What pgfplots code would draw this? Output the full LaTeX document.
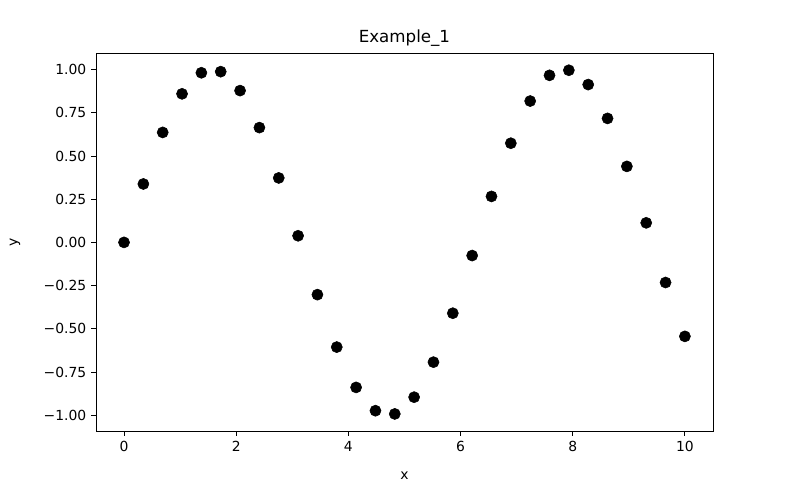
\documentclass[border=0pt]{standalone}
\usepackage{fontspec}
\setmainfont{DejaVu Sans}
\usepackage{pgfplots}
\pgfplotsset{compat=1.18}
\begin{document}
\begin{tikzpicture}
\begin{axis}[
  scale only axis,
  width=444.2pt, height=272.2pt,
  xmin=-0.5, xmax=10.5, ymin=-1.0925, ymax=1.0959,
  xtick={0,2,4,6,8,10},
  ytick={-1,-0.75,-0.5,-0.25,0,0.25,0.5,0.75,1},
  tick align=outside,
  tick pos=lower,
  major tick length=3.5pt,
  tick style={black, line width=0.6pt},
  axis line style={line width=0.6pt},
  ticklabel style={font=\fontsize{10}{12}\selectfont},
  xticklabel={\pgfmathprintnumber[assume math mode=true]{\tick}},
  yticklabel={\pgfmathsetmacro\a{abs(\tick)}\ifdim\tick pt<-0.0001pt \char"2212\fi\pgfmathprintnumber[fixed,fixed zerofill,precision=2,assume math mode=true]{\a}},
  title={Example\_1},
  title style={font=\fontsize{12}{14}\selectfont, yshift=-5pt},
  xlabel={x}, ylabel={y},
  xlabel style={font=\fontsize{10}{12}\selectfont, yshift=-8pt},
  ylabel style={font=\fontsize{10}{12}\selectfont, yshift=10pt},
]
\addplot[only marks, mark=*, mark size=4.0pt, black] coordinates {
(0.0000,0.0000) (0.3448,0.3381) (0.6897,0.6365) (1.0345,0.8598) (1.3793,0.9817)
(1.7241,0.9882) (2.0690,0.8785) (2.4138,0.6643) (2.7586,0.3730) (3.1034,0.0382)
(3.4483,-0.3025) (3.7931,-0.6061) (4.1379,-0.8394) (4.4828,-0.9743) (4.8276,-0.9930)
(5.1724,-0.8960) (5.5172,-0.6932) (5.8621,-0.4100) (6.2069,-0.0762) (6.5517,0.2661)
(6.8966,0.5740) (7.2414,0.8181) (7.5862,0.9669) (7.9310,0.9964) (8.2759,0.9134)
(8.6207,0.7176) (8.9655,0.4399) (9.3103,0.1131) (9.6552,-0.2323) (10.0000,-0.5440)
};
\end{axis}
\pgfresetboundingbox
\path ([xshift=-69.1pt,yshift=-37.4pt]current axis.south west) rectangle ([xshift=52.6pt,yshift=38.2pt]current axis.north east);
\end{tikzpicture}
\end{document}
